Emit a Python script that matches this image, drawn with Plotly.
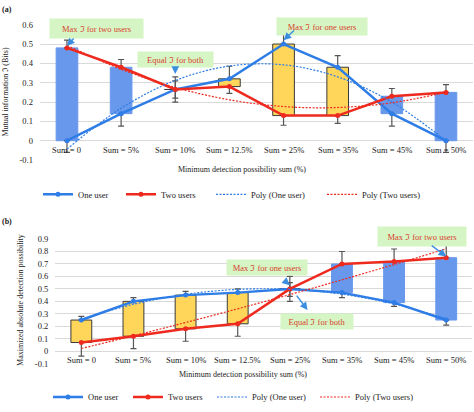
import numpy as np
import plotly.graph_objects as go

# categories shared by both panels
CATS = ["Sum = 0", "Sum = 5%", "Sum = 10%", "Sum = 12.5%",
        "Sum = 25%", "Sum = 35%", "Sum = 45%", "Sum = 50%"]
SERIES = ["One user", "Two users", "Poly (One user)", "Poly (Two users)"]

# panel (a): mutual information
one_a = [0.00, 0.14, 0.265, 0.32, 0.50, 0.38, 0.14, 0.00]
two_a = [0.48, 0.38, 0.265, 0.28, 0.13, 0.13, 0.23, 0.25]
one_a_hi = [0.00, 0.14, 0.33, 0.385, 0.55, 0.44, 0.14, 0.00]
one_a_lo = [-0.06, 0.075, 0.22, 0.32, 0.50, 0.38, 0.075, -0.06]
two_a_hi = [0.52, 0.42, 0.31, 0.28, 0.13, 0.13, 0.27, 0.29]
two_a_lo = [0.48, 0.38, 0.20, 0.245, 0.08, 0.09, 0.23, 0.25]
yticks_a = [-0.1, 0, 0.1, 0.2, 0.3, 0.4, 0.5, 0.6]

# panel (b): maximized absolute detection possibility
one_b = [0.25, 0.40, 0.45, 0.47, 0.50, 0.47, 0.39, 0.25]
two_b = [0.07, 0.12, 0.18, 0.22, 0.50, 0.70, 0.72, 0.75]
one_b_hi = [0.28, 0.43, 0.48, 0.50, 0.60, 0.47, 0.39, 0.25]
one_b_lo = [0.25, 0.40, 0.45, 0.47, 0.44, 0.43, 0.36, 0.21]
two_b_hi = [0.07, 0.12, 0.18, 0.22, 0.55, 0.80, 0.82, 0.85]
two_b_lo = [-0.04, 0.02, 0.08, 0.12, 0.40, 0.70, 0.72, 0.75]
yticks_b = [-0.1, 0, 0.1, 0.2, 0.3, 0.4, 0.5, 0.6, 0.7, 0.8, 0.9]

FONT = "Liberation Serif"
BLUE = "#2F7DE6"
RED = "#EE2A1F"
BOX_UP = "#FFD65A"
BOX_DOWN = "#6898EC"
ERR = "#555555"
NOTE_BG = "#D6F5C4"
NOTE_TXT = "#D8412F"
DOTS = "2px,1.5px"
W, H = 474, 412


def poly2(vals):
    # Excel style 2nd order polynomial trendline
    idx = np.arange(len(vals))
    return np.polyval(np.polyfit(idx, vals, 2), idx)


fig = go.Figure()


def add_panel(one, two, one_hi, one_lo, two_hi, two_lo, xa, ya, legends):
    one = np.array(one)
    two = np.array(two)
    up = one >= two
    # up/down bars between the two series
    fig.add_trace(go.Bar(
        x=CATS, y=np.abs(one - two), base=np.minimum(one, two),
        width=0.4,
        marker=dict(color=[BOX_UP if u else BOX_DOWN for u in up],
                    line=dict(color=["#3a3a3a" if u else BOX_DOWN for u in up], width=1)),
        showlegend=False, hoverinfo="skip", xaxis=xa, yaxis=ya,
    ))
    for vals, hi, lo, name, col, lg in [(one, one_hi, one_lo, SERIES[0], BLUE, legends[0]),
                                         (two, two_hi, two_lo, SERIES[1], RED, legends[1])]:
        fig.add_trace(go.Scatter(
            x=CATS, y=vals, name=name, mode="lines+markers",
            line=dict(color=col, width=2.5),
            marker=dict(size=5, color=col),
            error_y=dict(type="data", symmetric=False,
                         array=np.array(hi) - vals, arrayminus=vals - np.array(lo),
                         color=ERR, thickness=1.2, width=3),
            xaxis=xa, yaxis=ya, legend=lg,
        ))
    for vals, name, col, lg in [(one, SERIES[2], BLUE, legends[2]),
                                (two, SERIES[3], RED, legends[3])]:
        fig.add_trace(go.Scatter(
            x=CATS, y=poly2(vals), name=name, mode="lines",
            line=dict(color=col, width=1.2, dash=DOTS, shape="spline"),
            xaxis=xa, yaxis=ya, legend=lg,
        ))


legends_a = ["legend", "legend2", "legend3", "legend4"]
legends_b = ["legend5", "legend6", "legend7", "legend8"]
add_panel(one_a, two_a, one_a_hi, one_a_lo, two_a_hi, two_a_lo, "x", "y", legends_a)
add_panel(one_b, two_b, one_b_hi, one_b_lo, two_b_hi, two_b_lo, "x2", "y2", legends_b)

xcommon = dict(type="category", range=[-0.5, 7.5], showgrid=False, zeroline=False,
               showticklabels=False, showline=False, ticks="")
ycommon = dict(showgrid=True, gridcolor="#D9D9D9", gridwidth=1, zeroline=False,
               ticks="", ticklabelstandoff=6,
               tickfont=dict(family=FONT, size=8.5, color="#222"))

fig.update_layout(
    width=W, height=H,
    margin=dict(l=0, r=0, t=0, b=0),
    paper_bgcolor="white", plot_bgcolor="white",
    font=dict(family=FONT, size=8.5, color="#222"),
    barmode="overlay",
    xaxis=dict(domain=[0.0842, 0.998], anchor="y", **xcommon),
    yaxis=dict(domain=[0.6044, 0.9498], range=[-0.1001, 0.6001], anchor="x",
               tickvals=yticks_a, ticktext=[f"{v:g}" for v in yticks_a], **ycommon),
    xaxis2=dict(domain=[0.1166, 0.9964], anchor="y2", **xcommon),
    yaxis2=dict(domain=[0.085, 0.403], range=[-0.1001, 0.9001], anchor="x2",
                tickvals=yticks_b, ticktext=[f"{v:g}" for v in yticks_b], **ycommon),
)

# one legend box per entry so each sits where the original puts it
legend_pos = {}
for lg, px in zip(legends_a, [45, 128, 218, 329]):
    legend_pos[lg] = (px, 199)
for lg, px in zip(legends_b, [55, 135, 219, 322]):
    legend_pos[lg] = (px, 412)
for lg, (px, py) in legend_pos.items():
    fig.update_layout({lg: dict(orientation="h", x=(px - 7) / W, xanchor="left",
                                y=1 - py / H, yanchor="middle", bgcolor="rgba(0,0,0,0)",
                                font=dict(family=FONT, size=8.5, color="#222"),
                                itemwidth=30)})

notes = []
# category labels sitting on the zero line
for xr, yr in [("x", "y"), ("x2", "y2")]:
    for c in CATS:
        notes.append(dict(x=c, y=0, xref=xr, yref=yr, text=c, showarrow=False,
                          xanchor="center", yanchor="top", yshift=-2,
                          font=dict(family=FONT, size=8.5, color="#222")))


def paper_text(px, py, text, **kw):
    d = dict(x=px / W, y=1 - py / H, xref="paper", yref="paper", text=text,
             showarrow=False, xanchor="center", yanchor="middle",
             font=dict(family=FONT, size=8, color="#222"))
    d.update(kw)
    return d


notes += [
    paper_text(0, 5, "<b>(a)</b>", xanchor="left"),
    paper_text(0, 228, "<b>(b)</b>", xanchor="left"),
    paper_text(242, 173, "Minimum detection possibility sum (%)"),
    paper_text(243, 388, "Minimum detection possibility sum (%)"),
    paper_text(6, 92, "Mutual information ℑ (Bits)", textangle=-90),
    paper_text(21, 310, "Maximized absolute detection possibility", textangle=-90),
]

# green call-out boxes
for px, py, w, h, t in [(96, 24.5, 91, 17, "Max ℑ for two users"),
                        (175.5, 57, 73, 13, "Equal ℑ for both"),
                        (322, 23, 88, 15, "Max ℑ for one users"),
                        (422, 243, 86, 17, "Max ℑ for two users"),
                        (267, 276, 78, 13, "Max ℑ for one users"),
                        (317, 332.5, 70, 13, "Equal ℑ for both")]:
    notes.append(paper_text(px, py, t, width=w, height=h, bgcolor=NOTE_BG,
                            font=dict(family=FONT, size=8.5, color=NOTE_TXT)))

# arrows (tip at data position, tail offset in pixels)
arrow = dict(text="", showarrow=True, arrowhead=2, arrowsize=1.1, arrowwidth=1.4,
             arrowcolor="#3A8EE0")
for x, y, xr, yr, ax, ay in [(CATS[0], 0.49, "x", "y", 8, -9),
                             (CATS[2], 0.345, "x", "y", 0, -7),
                             (CATS[4], 0.52, "x", "y", 12, -11),
                             (CATS[7], 0.76, "x2", "y2", -16, -12),
                             (CATS[4], 0.53, "x2", "y2", -7, -6),
                             (4.34, 0.33, "x2", "y2", -12, -16)]:
    notes.append(dict(x=x, y=y, xref=xr, yref=yr, ax=ax, ay=ay, **arrow))

fig.update_layout(annotations=notes)
# the page body has a default margin; drop it so the chart fills the window
fig.write_html("out.html", config={"displayModeBar": False},
               post_script="document.body.style.margin='0';")
